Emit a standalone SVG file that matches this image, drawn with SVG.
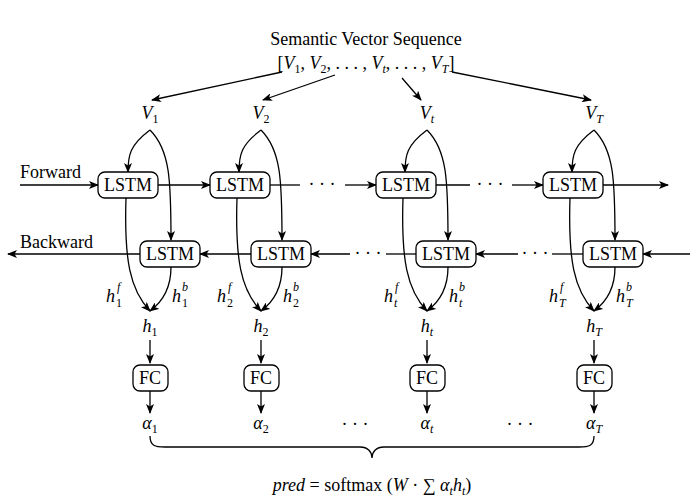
<svg xmlns="http://www.w3.org/2000/svg" width="692" height="501" viewBox="0 0 692 501">
<style>
text{font-family:"Liberation Serif",serif;font-size:18px;fill:#000}
.m{font-style:italic}
.c{text-anchor:middle}
.s{font-size:12px;font-style:normal}
.si{font-size:12px;font-style:italic}
rect{fill:#fff;stroke:#000;stroke-width:1.3}
.l{fill:none;stroke:#000;stroke-width:1.3}
</style>
<defs><marker id="a" markerWidth="10" markerHeight="8" refX="9" refY="4" orient="auto" markerUnits="userSpaceOnUse"><path d="M0,0L10,4L0,8L2.5,4Z" fill="#000"/></marker></defs>
<g id="title"><text x="366" y="45" class="c">Semantic Vector Sequence</text>
<text x="366" y="69" class="c">[<tspan class="m">V</tspan><tspan class="s" dy="4">1</tspan><tspan dy="-4">, </tspan><tspan class="m">V</tspan><tspan class="s" dy="4">2</tspan><tspan dy="-4">, . . . , </tspan><tspan class="m">V</tspan><tspan class="si" dy="4">t</tspan><tspan dy="-4">, . . . , </tspan><tspan class="m">V</tspan><tspan class="si" dy="4">T</tspan><tspan dy="-4">]</tspan></text></g>
<g id="labels"><text x="20" y="178">Forward</text><text x="20" y="248">Backward</text></g>
<g id="vlabels">
<text x="150" y="119" class="c m">V<tspan class="s" dy="4">1</tspan></text>
<text x="261" y="119" class="c m">V<tspan class="s" dy="4">2</tspan></text>
<text x="427" y="119" class="c m">V<tspan class="si" dy="4">t</tspan></text>
<text x="594" y="119" class="c m">V<tspan class="si" dy="4">T</tspan></text>
</g>
<g id="connectors">
<path class="l" marker-end="url(#a)" d="M282,72L152,100"/>
<path class="l" marker-end="url(#a)" d="M335,75L263,100"/>
<path class="l" marker-end="url(#a)" d="M402,78L421,100"/>
<path class="l" marker-end="url(#a)" d="M452,72L591,100"/>
<g id="cols">
<path class="l" marker-end="url(#a)" d="M150,130C130,145 128,155 128,172"/>
<path class="l" marker-end="url(#a)" d="M150,130C170,150 171,180 171,240"/>
<path class="l" marker-end="url(#a)" d="M126,198C124,260 130,290 150,311"/>
<path class="l" marker-end="url(#a)" d="M171,267C171,285 165,300 150,311"/>
<path class="l" marker-end="url(#a)" d="M150,340L150,363"/><path class="l" marker-end="url(#a)" d="M150,391L150,413"/>
</g>
<use href="#cols" x="111"/><use href="#cols" x="277"/><use href="#cols" x="444"/>
<path class="l" marker-end="url(#a)" d="M20,185L98,185"/>
<path class="l" marker-end="url(#a)" d="M158,185L210,185"/>
<path class="l" d="M270,185L300,185"/><path class="l" marker-end="url(#a)" d="M345,185L376,185"/>
<path class="l" d="M436,185L470,185"/><path class="l" marker-end="url(#a)" d="M512,185L543,185"/>
<path class="l" marker-end="url(#a)" d="M603,185L668,185"/>
<path class="l" marker-end="url(#a)" d="M690,254L643,254"/>
<path class="l" d="M583,254L552,254"/><path class="l" marker-end="url(#a)" d="M518,254L476,254"/>
<path class="l" d="M416,254L386,254"/><path class="l" marker-end="url(#a)" d="M350,254L311,254"/>
<path class="l" marker-end="url(#a)" d="M251,254L200,254"/>
<path class="l" marker-end="url(#a)" d="M140,254L8,254"/>
<path class="l" d="M150,436C150,446 155,447 165,447L360,447C368,447 372,452 372,458C372,452 376,447 384,447L579,447C589,447 594,446 594,436"/>
</g>
<g id="dots"><text x="322" y="190" class="c">· · ·</text><text x="490" y="190" class="c">· · ·</text>
<text x="368" y="259" class="c">· · ·</text><text x="535" y="259" class="c">· · ·</text>
<text x="355" y="430" class="c">· · ·</text><text x="520" y="430" class="c">· · ·</text></g>
<g id="lstm-f">
<rect x="98" y="172" width="60" height="26" rx="7"/><text x="128" y="191" class="c">LSTM</text>
<rect x="210" y="172" width="60" height="26" rx="7"/><text x="240" y="191" class="c">LSTM</text>
<rect x="376" y="172" width="60" height="26" rx="7"/><text x="406" y="191" class="c">LSTM</text>
<rect x="543" y="172" width="60" height="26" rx="7"/><text x="573" y="191" class="c">LSTM</text></g>
<g id="lstm-b">
<rect x="140" y="241" width="60" height="26" rx="7"/><text x="170" y="260" class="c">LSTM</text>
<rect x="251" y="241" width="60" height="26" rx="7"/><text x="281" y="260" class="c">LSTM</text>
<rect x="416" y="241" width="60" height="26" rx="7"/><text x="446" y="260" class="c">LSTM</text>
<rect x="583" y="241" width="60" height="26" rx="7"/><text x="613" y="260" class="c">LSTM</text></g>
<g id="hlabels">
<text x="106" y="302" class="m">h</text><text x="117" y="291" class="si">f</text><text x="116" y="307" class="s">1</text>
<text x="172" y="302" class="m">h</text><text x="182" y="291" class="si">b</text><text x="182" y="307" class="s">1</text>
<text x="217" y="302" class="m">h</text><text x="228" y="291" class="si">f</text><text x="227" y="307" class="s">2</text>
<text x="283" y="302" class="m">h</text><text x="293" y="291" class="si">b</text><text x="293" y="307" class="s">2</text>
<text x="384" y="302" class="m">h</text><text x="395" y="291" class="si">f</text><text x="394" y="307" class="si">t</text>
<text x="449" y="302" class="m">h</text><text x="459" y="291" class="si">b</text><text x="459" y="307" class="si">t</text>
<text x="549" y="302" class="m">h</text><text x="560" y="291" class="si">f</text><text x="559" y="307" class="si">T</text>
<text x="616" y="302" class="m">h</text><text x="626" y="291" class="si">b</text><text x="626" y="307" class="si">T</text>
<text x="150" y="332" class="c m">h<tspan class="s" dy="4">1</tspan></text>
<text x="261" y="332" class="c m">h<tspan class="s" dy="4">2</tspan></text>
<text x="427" y="332" class="c m">h<tspan class="si" dy="4">t</tspan></text>
<text x="594" y="332" class="c m">h<tspan class="si" dy="4">T</tspan></text></g>
<g id="fc">
<rect x="133" y="365" width="35" height="26" rx="7"/><text x="150" y="384" class="c">FC</text>
<rect x="244" y="365" width="35" height="26" rx="7"/><text x="261" y="384" class="c">FC</text>
<rect x="410" y="365" width="35" height="26" rx="7"/><text x="427" y="384" class="c">FC</text>
<rect x="577" y="365" width="35" height="26" rx="7"/><text x="594" y="384" class="c">FC</text></g>
<g id="alpha">
<text x="150" y="429" class="c m">α<tspan class="s" dy="4">1</tspan></text>
<text x="261" y="429" class="c m">α<tspan class="s" dy="4">2</tspan></text>
<text x="427" y="429" class="c m">α<tspan class="si" dy="4">t</tspan></text>
<text x="594" y="429" class="c m">α<tspan class="si" dy="4">T</tspan></text></g>
<g id="formula"><text x="372" y="491" class="c"><tspan class="m">pred</tspan> = softmax (<tspan class="m">W</tspan> · ∑ <tspan class="m">α</tspan><tspan class="si" dy="4">t</tspan><tspan class="m" dy="-4">h</tspan><tspan class="si" dy="4">t</tspan><tspan dy="-4">)</tspan></text></g>
</svg>
